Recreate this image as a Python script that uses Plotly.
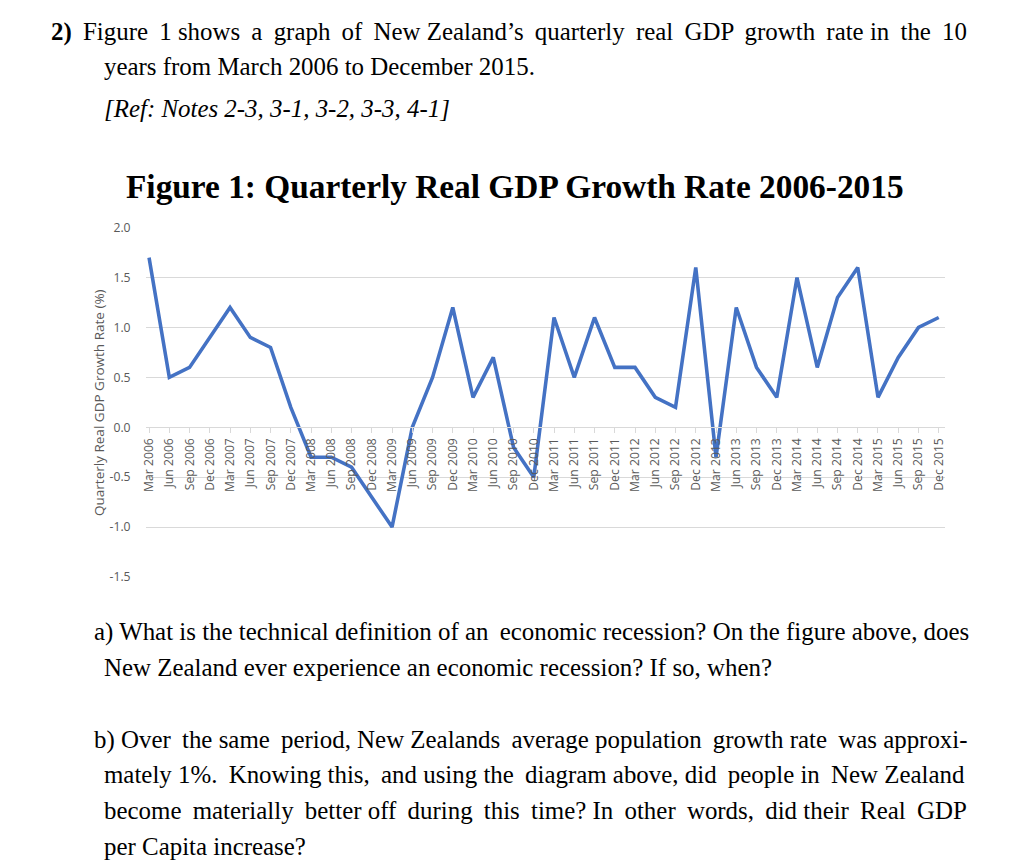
import plotly.graph_objects as go

W, H = 1027, 865
# the captured page carries an 8px body margin and is shrunk to fit the window;
# these constants map the wanted on-screen pixel to figure pixels
OFF = 8
SX, SY = 0.985, 0.982
SF = (SX + SY) / 2

quarters = [f"{m} {y}" for y in range(2006, 2016) for m in ["Mar", "Jun", "Sep", "Dec"]]
growth = [1.7, 0.5, 0.6, 0.9,
          1.2, 0.9, 0.8, 0.2,
          -0.3, -0.3, -0.4, -0.7,
          -1.0, 0.0, 0.5, 1.2,
          0.3, 0.7, -0.2, -0.5,
          1.1, 0.5, 1.1, 0.6,
          0.6, 0.3, 0.2, 1.6,
          -0.3, 1.2, 0.6, 0.3,
          1.5, 0.6, 1.3, 1.6,
          0.3, 0.7, 1.0, 1.1]
y_ticks = [-1.5, -1.0, -0.5, 0.0, 0.5, 1.0, 1.5, 2.0]
y_tick_text = [f"{v:.1f}" for v in y_ticks]

chart_title = "Figure 1: Quarterly Real GDP Growth Rate 2006-2015"
y_title = "Quarterly Real GDP Growth Rate (%)"

# (text, left x px, centre y px, extra thin spaces for justification)
top_lines = [
    ("<b>2)</b> Figure 1 shows a graph of New Zealand’s quarterly real GDP growth rate in the 10", 53, 31, 13),
    ("years from March 2006 to December 2015.", 105, 66, 0),
    ("<i>[Ref: Notes 2-3, 3-1, 3-2, 3-3, 4-1]</i>", 105, 108, 0),
]
bottom_lines = [
    ("a) What is the technical definition of an economic recession? On the figure above, does", 95, 632, 1),
    ("New Zealand ever experience an economic recession? If so, when?", 105, 668, 0),
    ("b) Over the same period, New Zealands average population growth rate was approxi-", 95, 740, 5),
    ("mately 1%. Knowing this, and using the diagram above, did people in New Zealand", 105, 775, 5),
    ("become materially better off during this time? In other words, did their Real GDP", 105, 811, 10),
    ("per Capita increase?", 105, 847, 0),
]


def px(x):
    return ((x - OFF) / SX) / W


def py(y):
    return 1 - ((y - OFF) / SY) / H


def fs(size):
    return size / SF


def justify(text, n):
    if n <= 0:
        return text
    parts = text.split(" ")
    gaps = len(parts) - 1
    out = parts[0]
    added = 0
    for i in range(1, len(parts)):
        target = round(i * n / gaps)
        extra = target - added
        added = target
        out += " " + "\u2009" * extra + parts[i]
    return out


# plot area in on-screen pixels
left, right, top, bottom = 147, 940, 227, 577
ymin, ymax = -1.5, 2.0
zero_px = top + (ymax - 0) / (ymax - ymin) * (bottom - top)

fig = go.Figure()
fig.add_trace(go.Scatter(
    x=quarters, y=growth, mode="lines",
    line=dict(color="#4472C4", width=fs(3.5)),
    hoverinfo="x+y", showlegend=False,
))

tick_font = dict(family="Open Sans, sans-serif", size=fs(12), color="#595959")

fig.update_layout(
    width=W, height=H,
    margin=dict(l=0, r=0, t=0, b=0),
    paper_bgcolor="white", plot_bgcolor="white",
    xaxis=dict(
        domain=[px(left), px(right)],
        anchor="free", position=py(zero_px),
        type="category",
        range=[-0.15, 39.3],
        tickangle=-90,
        ticks="outside", ticklen=5, tickcolor="#d9d9d9",
        showline=True, linecolor="#d9d9d9", linewidth=1,
        showgrid=False, zeroline=False,
        tickfont=tick_font,
    ),
    yaxis=dict(
        domain=[py(bottom), py(top)],
        range=[ymin, ymax],
        tickvals=y_ticks, ticktext=y_tick_text,
        showgrid=True, gridcolor="#d9d9d9", gridwidth=1,
        zeroline=False, showline=False,
        ticks="outside", ticklen=12, tickcolor="rgba(0,0,0,0)",
        tickfont=tick_font,
    ),
)

annotations = []
annotations.append(dict(
    text=f"<b>{chart_title}</b>", x=px(125), y=py(186), xref="paper", yref="paper",
    xanchor="left", yanchor="middle", showarrow=False,
    font=dict(family="Liberation Serif, serif", size=fs(32.8), color="black"),
))
annotations.append(dict(
    text=y_title, x=px(101), y=py(402), xref="paper", yref="paper",
    xanchor="center", yanchor="middle", showarrow=False, textangle=-90,
    font=dict(family="Open Sans, sans-serif", size=fs(13.3), color="#595959"),
))
for txt, x, y, n in top_lines + bottom_lines:
    annotations.append(dict(
        text=justify(txt, n), x=px(x - 2), y=py(y), xref="paper", yref="paper",
        xanchor="left", yanchor="middle", showarrow=False,
        font=dict(family="Liberation Serif, serif", size=fs(24.5), color="black"),
    ))
fig.update_layout(annotations=annotations)

fig.write_html("out.html")
